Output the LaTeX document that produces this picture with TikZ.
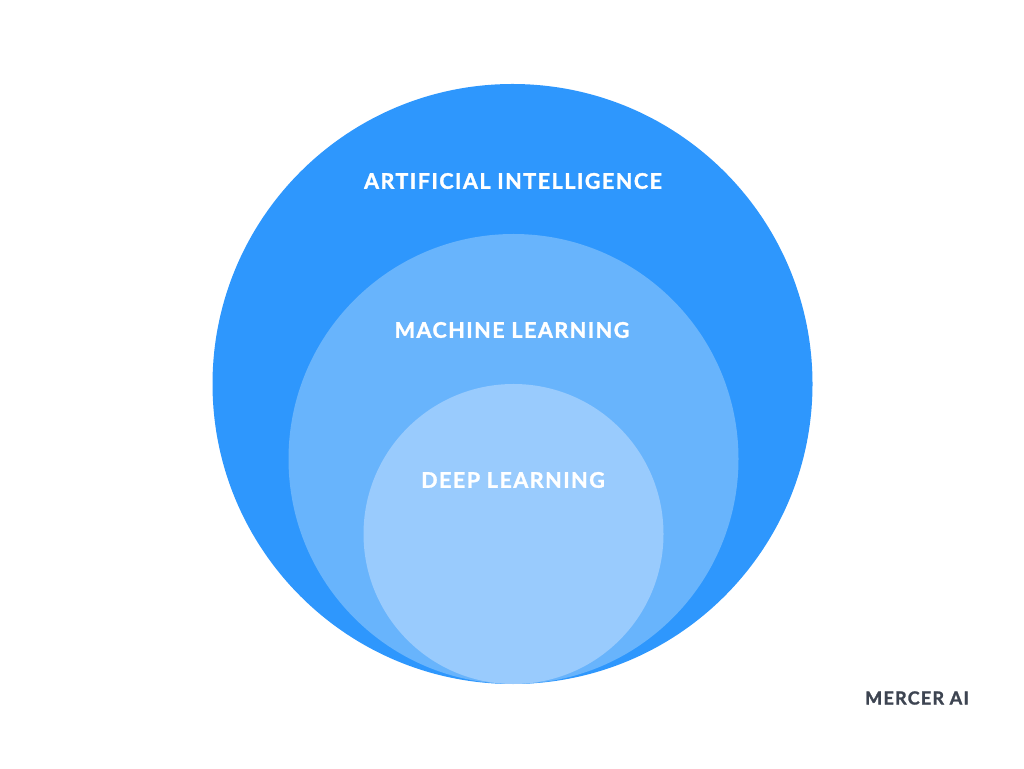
\documentclass[tikz,border=0pt]{standalone}
\usepackage{fontspec}
\setmainfont{Lato}
\newfontfamily\lblfont[LetterSpace=7,FakeBold=1.5]{Lato Bold}
\definecolor{ai}{HTML}{2E97FD}
\definecolor{ml}{HTML}{68B4FC}
\definecolor{dl}{HTML}{99CBFD}
\definecolor{brand}{HTML}{3D4451}
\begin{document}
\begin{tikzpicture}[x=1pt,y=1pt,
  lbl/.style={text=white,font=\lblfont\fontsize{21.5}{24}\selectfont,inner sep=0pt}]
\useasboundingbox (0,0) rectangle (1024,768);
\fill[ai] (512.5,384) circle (300);
\fill[ml] (513.5,309) circle (225);
\fill[dl] (513.5,234) circle (150);
\node[lbl] (a) at (513,587) {ARTIFICIAL INTELLIGENCE};
\node[lbl] (m) at (512,438) {MACHINE LEARNING};
\node[lbl] (d) at (513,288) {DEEP LEARNING};
\node[text=brand,font=\lblfont\fontsize{18}{20}\selectfont,inner sep=0pt] (b) at (917,70) {MERCER AI};
\end{tikzpicture}
\end{document}
